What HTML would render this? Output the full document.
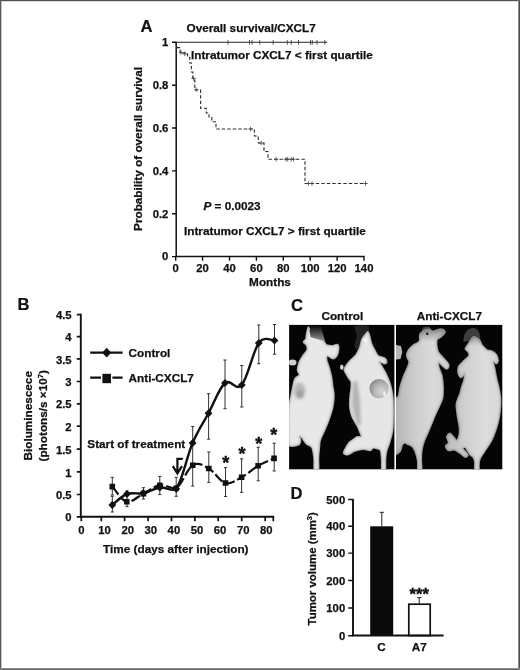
<!DOCTYPE html>
<html><head><meta charset="utf-8"><title>Figure</title>
<style>
html,body{margin:0;padding:0;background:#fff;}
body{width:520px;height:670px;overflow:hidden;}
svg{display:block;}
text{font-family:"Liberation Sans",sans-serif;font-weight:bold;fill:#111;}
.t{font-size:11.75px;stroke:#111;stroke-width:0.25px;}
.k{font-size:11.3px;}
.p{font-size:16.6px;stroke:#111;stroke-width:0.2px;}
.m{text-anchor:middle;}
.e{text-anchor:end;}
</style></head><body>
<svg width="520" height="670" viewBox="0 0 520 670">
<defs>
<filter id="bl" x="-5%" y="-5%" width="110%" height="110%"><feGaussianBlur stdDeviation="0.7"/></filter>
<filter id="bl2" x="-20%" y="-20%" width="140%" height="140%"><feGaussianBlur stdDeviation="1.8"/></filter>
<clipPath id="cpL"><rect x="289.1" y="324.9" width="105.4" height="144.4"/></clipPath>
<clipPath id="cpR"><rect x="396" y="324.9" width="106.3" height="144.4"/></clipPath>
</defs>
<rect x="0" y="0" width="520" height="670" fill="#fff"/>

<g id="panelA">
<text class="p" x="140.6" y="32.2">A</text>
<text class="t" x="186.5" y="31.5">Overall survival/CXCL7</text>
<text class="t" x="191" y="58.9">Intratumor CXCL7 &lt; first quartile</text>
<text class="t" x="203.4" y="210.2"><tspan font-style="italic">P</tspan> = 0.0023</text>
<text class="t" x="184" y="234.8">Intratumor CXCL7 &gt; first quartile</text>
<text class="t m" transform="translate(142,149) rotate(-90)">Probability of overall survival</text>
<text class="t m" x="270" y="286">Months</text>
<path d="M176.2,41.8 V256.6 H364.6" fill="none" stroke="#111" stroke-width="1.5"/>
<path d="M172,42.3 H176 M172,85.2 H176 M172,128.0 H176 M172,170.9 H176 M172,213.7 H176 M172,256.6 H176 M175.7,256.6 V260.8 M202.6,256.6 V260.8 M229.5,256.6 V260.8 M256.4,256.6 V260.8 M283.3,256.6 V260.8 M310.2,256.6 V260.8 M337.1,256.6 V260.8 M364.0,256.6 V260.8 " fill="none" stroke="#111" stroke-width="1.4"/>
<text class="t k e" x="168.4" y="46.1">1</text>
<text class="t k e" x="168.4" y="89.0">0.8</text>
<text class="t k e" x="168.4" y="131.8">0.6</text>
<text class="t k e" x="168.4" y="174.7">0.4</text>
<text class="t k e" x="168.4" y="217.5">0.2</text>
<text class="t k e" x="168.4" y="260.4">0</text>
<text class="t k m" x="175.7" y="272">0</text>
<text class="t k m" x="202.6" y="272">20</text>
<text class="t k m" x="229.5" y="272">40</text>
<text class="t k m" x="256.4" y="272">60</text>
<text class="t k m" x="283.3" y="272">80</text>
<text class="t k m" x="310.2" y="272">100</text>
<text class="t k m" x="337.1" y="272">120</text>
<text class="t k m" x="364.0" y="272">140</text>
<path d="M176,42.3 H327.2" stroke="#222" stroke-width="1.1" fill="none"/>
<path d="M228.0,40 V44.8 M249.5,40 V44.8 M252.0,40 V44.8 M259.7,40 V44.8 M273.2,40 V44.8 M287.3,40 V44.8 M291.3,40 V44.8 M298.5,40 V44.8 M310.5,40 V44.8 M312.3,40 V44.8 M317.0,40 V44.8 M324.8,40 V44.8 " stroke="#333" stroke-width="0.8" fill="none"/>
<path d="M176.3,42.5 V47.6 H180.2 V52.9 H187.6 V57.5 H189.8 V63 H191.4 V72 H192.8 V80 H194.8 V89.8 H200.6 V108.3 H206.3 V113 H209 V117 H211.8 V121.7 H216 V129 H254.4 V136 H258.3 V143 H264 V151.5 H268 V159.3 H305 V183.5 H366.6" stroke="#2a2a2a" stroke-width="1.1" fill="none" stroke-dasharray="3.4 2.1"/>
<path d="M181.0,50.4 v4.4 M178.8,52.6 h4.4 M184.8,51.7 v4.4 M182.6,53.9 h4.4 M193.6,76.2 v4.4 M191.4,78.4 h4.4 M196.2,87.6 v4.4 M194.0,89.8 h4.4 M250.6,126.8 v4.4 M248.4,129.0 h4.4 M261.2,140.8 v4.4 M259.0,143.0 h4.4 M276.2,157.1 v4.4 M274.0,159.3 h4.4 M286.0,157.1 v4.4 M283.8,159.3 h4.4 M287.7,157.1 v4.4 M285.5,159.3 h4.4 M291.2,157.1 v4.4 M289.0,159.3 h4.4 M293.5,157.1 v4.4 M291.3,159.3 h4.4 M308.5,181.3 v4.4 M306.3,183.5 h4.4 M312.0,181.3 v4.4 M309.8,183.5 h4.4 M365.5,181.3 v4.4 M363.3,183.5 h4.4 " stroke="#444" stroke-width="0.8" fill="none"/>
</g>
<g id="panelB">
<text class="p" x="17.5" y="310">B</text>
<path d="M80.8,313.8 V516.8 H274.2" fill="none" stroke="#111" stroke-width="1.9"/>
<path d="M76.8,516.8 H80.8 M76.8,494.5 H80.8 M76.8,471.9 H80.8 M76.8,449.1 H80.8 M76.8,426.2 H80.8 M76.8,403.8 H80.8 M76.8,381.5 H80.8 M76.8,358.9 H80.8 M76.8,336.6 H80.8 M76.8,314.6 H80.8 M81.3,516.8 V521.2 M101.3,516.8 V521.2 M124.6,516.8 V521.2 M148.1,516.8 V521.2 M171.5,516.8 V521.2 M194.9,516.8 V521.2 M218.2,516.8 V521.2 M241.7,516.8 V521.2 M265.2,516.8 V521.2 M273.3,516.8 V521.2 " fill="none" stroke="#111" stroke-width="1.7"/>
<text class="t k e" x="71.6" y="521.4">0</text>
<text class="t k e" x="71.6" y="499.1">0.5</text>
<text class="t k e" x="71.6" y="476.5">1</text>
<text class="t k e" x="71.6" y="453.7">1.5</text>
<text class="t k e" x="71.6" y="430.8">2</text>
<text class="t k e" x="71.6" y="408.4">2.5</text>
<text class="t k e" x="71.6" y="386.1">3</text>
<text class="t k e" x="71.6" y="363.5">3.5</text>
<text class="t k e" x="71.6" y="341.2">4</text>
<text class="t k e" x="71.6" y="319.2">4.5</text>
<text class="t k m" x="81.5" y="534.4">0</text>
<text class="t k m" x="104.6" y="534.4">10</text>
<text class="t k m" x="127.7" y="534.4">20</text>
<text class="t k m" x="150.8" y="534.4">30</text>
<text class="t k m" x="173.9" y="534.4">40</text>
<text class="t k m" x="197.0" y="534.4">50</text>
<text class="t k m" x="220.1" y="534.4">60</text>
<text class="t k m" x="243.2" y="534.4">70</text>
<text class="t k m" x="266.3" y="534.4">80</text>
<text class="t m" x="175.8" y="553.2">Time (days after injection)</text>
<text class="t m" transform="translate(32,415.8) rotate(-90)">Bioluminescece</text>
<text class="t m" transform="translate(47.3,415.8) rotate(-90)">(photons/s ×10<tspan font-size="7.5" dy="-4.5">7</tspan><tspan dy="4.5">)</tspan></text>
<path d="M90.2,352.7 H122.6" stroke="#111" stroke-width="2.3" fill="none"/>
<path d="M106.7,347.8 L111.2,352.7 L106.7,357.6 L102.2,352.7 Z" fill="#111"/>
<path d="M90.2,377.6 H101 M112.4,377.6 H122.6" stroke="#111" stroke-width="2.3" fill="none"/>
<rect x="102.4" y="373.8" width="8.6" height="9.4" fill="#111"/>
<text class="t" x="128.6" y="357.4">Control</text>
<text class="t" x="128.6" y="382.4">Anti-CXCL7</text>
<text class="t" x="87.3" y="448.2">Start of treatment</text>
<path d="M182.8,458.8 H177.4 V472.3 M172.8,466.2 L177.4,473.4 L182,466.2" stroke="#111" stroke-width="2.2" fill="none"/>
<path d="M112.3,477.3 V495.0 M110.7,477.3 h3.2 M110.7,495.0 h3.2 M112.3,496.3 V512.0 M110.7,496.3 h3.2 M110.7,512.0 h3.2 M127.0,491.0 V506.7 M125.4,491.0 h3.2 M125.4,506.7 h3.2 M143.4,487.7 V499.0 M141.8,487.7 h3.2 M141.8,499.0 h3.2 M159.8,476.4 V494.6 M158.2,476.4 h3.2 M158.2,494.6 h3.2 M176.2,477.3 V496.3 M174.6,477.3 h3.2 M174.6,496.3 h3.2 M192.7,426.5 V486.0 M191.1,426.5 h3.2 M191.1,486.0 h3.2 M208.6,393.7 V439.2 M207.0,393.7 h3.2 M207.0,439.2 h3.2 M208.8,452.0 V482.4 M207.2,452.0 h3.2 M207.2,482.4 h3.2 M225.0,360.0 V408.7 M223.4,360.0 h3.2 M223.4,408.7 h3.2 M241.8,365.5 V407.0 M240.2,365.5 h3.2 M240.2,407.0 h3.2 M258.8,325.0 V363.7 M257.2,325.0 h3.2 M257.2,363.7 h3.2 M274.5,324.5 V354.2 M272.9,324.5 h3.2 M272.9,354.2 h3.2 M225.5,467.6 V496.5 M223.9,467.6 h3.2 M223.9,496.5 h3.2 M241.6,458.8 V492.3 M240.0,458.8 h3.2 M240.0,492.3 h3.2 M258.2,447.3 V480.8 M256.6,447.3 h3.2 M256.6,480.8 h3.2 M274.2,443.2 V471.0 M272.6,443.2 h3.2 M272.6,471.0 h3.2 " stroke="#333" stroke-width="1" fill="none"/>
<path d="M112.3,486.6 C114.8,489.2 121.4,500.5 126.8,501.7 C132.2,502.9 137.6,496.5 143.4,493.6 C149.2,490.7 154.1,486.1 159.8,485.2 C165.5,484.3 173.3,489.9 176.2,488.2 C182.0,484.7 187.0,468.7 192.7,465.3 C198.4,461.9 203.1,465.4 208.8,468.5 C214.5,471.6 219.8,481.5 225.5,483.0 C231.2,484.5 235.9,480.3 241.6,477.3 C247.3,474.3 252.4,469.1 258.1,465.8 C263.8,462.5 271.3,459.7 274.1,458.4" stroke="#111" stroke-width="2.2" fill="none" stroke-dasharray="10 3"/>
<path d="M112.3,504.9 C114.9,503.0 121.6,496.0 127.0,494.0 C132.4,492.0 137.7,494.3 143.4,493.2 C149.1,492.1 154.1,488.3 159.8,487.5 C165.5,486.7 173.6,492.3 176.2,488.8 C182.5,480.2 186.9,456.2 192.6,443.0 C198.3,429.8 202.8,423.8 208.5,413.3 C214.2,402.8 219.2,388.0 225.0,383.0 C230.8,378.0 235.9,392.0 241.8,385.0 C247.7,378.0 253.1,350.8 258.8,343.0 C264.5,335.2 271.8,340.9 274.5,340.5" stroke="#111" stroke-width="2.4" fill="none"/>
<path d="M112.3,500.8 l3.9,4.1 l-3.9,4.1 l-3.9,-4.1 Z M127.0,489.9 l3.9,4.1 l-3.9,4.1 l-3.9,-4.1 Z M143.4,489.1 l3.9,4.1 l-3.9,4.1 l-3.9,-4.1 Z M159.8,483.4 l3.9,4.1 l-3.9,4.1 l-3.9,-4.1 Z M176.2,484.7 l3.9,4.1 l-3.9,4.1 l-3.9,-4.1 Z M192.6,438.9 l3.9,4.1 l-3.9,4.1 l-3.9,-4.1 Z M208.5,409.2 l3.9,4.1 l-3.9,4.1 l-3.9,-4.1 Z M225.0,378.9 l3.9,4.1 l-3.9,4.1 l-3.9,-4.1 Z M241.8,380.9 l3.9,4.1 l-3.9,4.1 l-3.9,-4.1 Z M258.8,338.9 l3.9,4.1 l-3.9,4.1 l-3.9,-4.1 Z M274.5,336.4 l3.9,4.1 l-3.9,4.1 l-3.9,-4.1 Z " fill="#111"/>
<path d="M109.5,483.8 h5.6 v5.6 h-5.6 Z M124.0,498.9 h5.6 v5.6 h-5.6 Z M140.6,490.8 h5.6 v5.6 h-5.6 Z M157.0,482.4 h5.6 v5.6 h-5.6 Z M173.4,485.4 h5.6 v5.6 h-5.6 Z M189.9,462.5 h5.6 v5.6 h-5.6 Z M206.0,465.7 h5.6 v5.6 h-5.6 Z M222.7,480.2 h5.6 v5.6 h-5.6 Z M238.8,474.5 h5.6 v5.6 h-5.6 Z M255.3,463.0 h5.6 v5.6 h-5.6 Z M271.3,455.6 h5.6 v5.6 h-5.6 Z " fill="#111"/>
<text class="t m" x="225.7" y="469.4" style="font-size:18px;stroke-width:0.45px">*</text>
<text class="t m" x="242.0" y="459.5" style="font-size:18px;stroke-width:0.45px">*</text>
<text class="t m" x="258.7" y="450.2" style="font-size:18px;stroke-width:0.45px">*</text>
<text class="t m" x="273.7" y="441.0" style="font-size:18px;stroke-width:0.45px">*</text>
</g>
<g id="panelC">
<text class="p" x="291" y="310.5">C</text>
<text class="t m" x="342.3" y="320.4">Control</text>
<text class="t m" x="449.4" y="320.4">Anti-CXCL7</text>
<rect x="289.1" y="324.9" width="213.2" height="144.4" fill="#050505"/>
<defs>
<path id="m1" d="M308.3,327.2 C307.7,327.7 306.9,332.5 306.5,334.3 C306.1,336.1 306.3,337.9 305.9,339.1 C305.4,340.3 303.4,341.2 303.5,342.1 C303.6,343.0 306.0,343.9 306.5,345.1 C307.0,346.3 307.6,348.3 307.1,349.9 C306.6,351.5 304.1,354.0 302.9,355.8 C301.7,357.6 300.1,359.7 299.3,361.8 C298.5,363.9 297.5,368.1 297.5,370.1 C297.5,372.1 299.7,373.6 299.3,374.9 C298.9,376.2 296.1,376.7 295.1,378.5 C294.1,380.3 293.4,384.2 292.8,386.9 C292.2,389.6 291.7,392.9 291.0,396.4 C290.3,399.9 288.4,404.8 288.0,410.0 C287.6,415.2 288.0,425.5 288.0,430.8 C288.0,436.1 286.5,443.0 288.0,445.1 C289.5,447.2 296.2,445.8 298.1,445.1 C300.0,444.4 300.4,441.8 300.5,440.4 C300.6,439.0 298.9,436.5 299.0,436.0 C299.1,435.5 300.4,436.0 301.5,437.2 C302.6,438.4 304.9,442.5 306.5,444.0 C308.1,445.5 310.8,445.4 311.9,447.5 C313.0,449.6 313.6,454.3 314.0,458.0 C314.4,461.7 313.7,469.9 314.4,472.0 C315.1,474.1 317.8,474.1 318.4,472.0 C319.0,469.9 318.4,461.7 318.5,458.0 C318.6,454.3 319.1,450.1 319.4,447.5 C319.7,444.9 319.4,442.9 320.2,440.4 C320.9,437.9 323.0,434.0 324.4,430.8 C325.8,427.6 327.9,422.5 329.2,418.9 C330.5,415.3 332.1,410.5 332.8,406.9 C333.5,403.3 334.0,398.0 334.0,395.0 C334.0,392.0 333.2,389.6 332.8,386.9 C332.4,384.2 332.1,380.2 331.6,377.3 C331.1,374.4 329.9,370.3 329.2,367.8 C328.5,365.3 327.1,362.4 326.8,360.6 C326.5,358.8 326.5,356.1 327.4,355.8 C328.3,355.5 331.4,358.8 332.8,358.8 C334.2,358.8 336.0,357.3 336.9,355.8 C337.8,354.3 338.6,350.4 338.7,348.7 C338.8,347.0 338.4,344.9 337.5,344.5 C336.6,344.1 334.4,345.6 332.8,345.7 C331.2,345.8 327.9,345.4 326.8,345.1 C325.7,344.8 326.1,344.6 325.6,343.9 C325.1,343.2 324.0,341.8 323.2,340.3 C322.4,338.8 321.4,335.4 320.0,334.0 C318.6,332.6 315.4,331.4 314.0,331.0 C312.6,330.6 311.4,331.6 310.5,331.0 C309.6,330.4 308.9,326.7 308.3,327.2Z"/>
<clipPath id="cm1"><use href="#m1"/></clipPath>
<path id="m2" d="M362.1,339.1 C362.9,337.2 364.1,336.1 365.0,335.0 C365.9,333.9 367.3,331.6 368.0,331.9 C368.7,332.2 369.3,334.9 369.8,336.7 C370.3,338.5 370.8,341.8 371.6,343.9 C372.4,346.0 374.2,349.2 375.2,351.0 C376.2,352.8 376.8,354.7 378.2,355.8 C379.6,356.9 383.5,357.2 384.8,358.2 C386.1,359.2 386.7,361.6 386.6,362.4 C386.5,363.2 385.4,363.8 384.2,363.6 C383.0,363.4 379.1,360.8 378.8,361.2 C378.5,361.6 380.9,364.7 382.0,366.6 C383.1,368.5 384.9,371.4 386.0,373.7 C387.1,376.0 388.6,379.4 389.5,382.1 C390.4,384.8 391.5,388.9 392.0,391.6 C392.5,394.3 392.8,395.9 393.0,400.0 C393.2,404.1 393.2,414.3 393.1,418.9 C393.0,423.5 393.0,427.2 392.5,430.8 C392.0,434.4 390.4,439.8 389.5,442.8 C388.6,445.8 387.2,448.5 386.6,451.1 C386.0,453.7 385.7,456.9 385.5,460.0 C385.3,463.1 385.8,470.2 385.3,472.0 C384.8,473.8 382.4,473.8 381.9,472.0 C381.4,470.2 381.9,463.2 381.7,460.0 C381.5,456.8 381.2,452.2 380.6,450.5 C380.0,448.8 378.8,449.1 377.6,448.7 C376.4,448.3 373.9,447.8 372.8,448.1 C371.7,448.4 371.8,450.3 370.4,450.5 C369.0,450.7 365.6,449.2 363.3,449.3 C361.0,449.4 357.2,450.3 354.9,451.1 C352.6,451.9 349.4,454.4 347.7,454.7 C346.0,455.0 343.9,453.8 343.6,452.9 C343.3,452.0 344.6,450.2 345.4,448.7 C346.2,447.2 347.7,444.2 348.9,442.8 C350.1,441.4 352.4,440.1 353.7,439.2 C355.0,438.3 356.1,437.2 357.3,436.8 C358.5,436.4 361.1,437.3 361.5,436.8 C361.9,436.3 360.9,434.8 360.3,433.2 C359.7,431.6 358.5,428.5 357.3,426.0 C356.1,423.5 353.1,419.4 352.0,416.5 C350.9,413.6 350.1,410.1 349.8,406.9 C349.5,403.7 350.0,397.6 350.2,395.0 C350.4,392.4 350.9,391.2 351.0,389.3 C351.1,387.4 351.5,383.7 351.2,382.1 C350.9,380.5 349.8,379.9 348.9,378.5 C348.0,377.1 346.1,373.8 345.4,372.5 C344.7,371.2 344.2,371.0 344.2,370.1 C344.2,369.2 344.5,368.0 345.4,366.6 C346.3,365.2 348.5,362.4 350.1,360.6 C351.7,358.8 354.7,356.6 356.1,354.6 C357.5,352.6 358.8,349.8 359.7,347.5 C360.6,345.2 361.3,341.0 362.1,339.1Z"/>
<clipPath id="cm2"><use href="#m2"/></clipPath>
<path id="m3" d="M419.9,334.3 C420.6,332.7 422.7,331.4 424.0,330.7 C425.3,330.0 427.4,329.4 428.8,329.6 C430.2,329.8 432.7,331.7 433.6,331.9 C434.5,332.1 433.7,331.1 434.8,330.7 C435.9,330.3 439.3,328.9 440.8,329.0 C442.3,329.1 444.5,330.5 444.9,331.3 C445.3,332.1 444.5,333.3 443.7,334.3 C442.9,335.3 440.6,337.2 439.6,337.9 C438.6,338.6 437.6,338.2 437.2,339.1 C436.8,340.0 436.5,342.1 436.6,343.9 C436.7,345.7 437.3,349.4 437.8,351.0 C438.3,352.6 438.6,352.6 440.2,354.6 C441.8,356.6 447.5,362.0 448.5,364.2 C449.5,366.4 447.9,369.0 446.7,369.0 C445.5,369.0 442.0,365.3 440.8,364.2 C439.6,363.1 438.7,361.3 438.4,361.8 C438.1,362.3 438.5,365.7 439.0,367.8 C439.5,369.9 441.4,373.2 442.0,376.1 C442.6,379.0 443.0,383.6 443.1,386.9 C443.2,390.2 443.2,395.0 442.6,398.0 C442.0,401.0 440.4,403.8 439.0,406.9 C437.6,410.0 435.1,415.3 433.6,418.9 C432.1,422.5 430.2,427.4 428.8,430.8 C427.4,434.2 425.1,438.6 424.0,441.6 C422.9,444.6 422.1,448.3 421.7,451.1 C421.3,453.9 421.3,456.9 421.3,460.0 C421.3,463.1 422.1,470.2 421.6,472.0 C421.1,473.8 418.8,473.8 418.2,472.0 C417.6,470.2 418.1,463.1 417.6,460.0 C417.1,456.9 415.9,453.2 415.1,451.1 C414.3,449.0 413.3,447.4 412.1,446.3 C410.9,445.2 408.4,444.5 407.3,444.0 C406.2,443.5 405.7,442.6 404.9,442.8 C404.1,443.0 402.7,443.9 402.0,445.1 C401.3,446.3 401.4,450.0 400.2,451.1 C399.0,452.2 394.9,457.0 394.0,452.3 C393.1,447.6 394.0,427.8 394.0,420.0 C394.0,412.2 393.3,403.5 394.0,400.0 C394.7,396.5 397.5,398.4 398.4,396.4 C399.3,394.4 399.4,389.9 400.2,386.9 C401.0,383.9 402.6,379.0 403.7,376.1 C404.8,373.2 406.5,369.9 407.3,367.8 C408.1,365.7 409.2,363.6 409.1,361.8 C409.0,360.0 406.8,357.6 406.7,355.8 C406.6,354.0 407.5,351.5 408.5,349.9 C409.5,348.3 411.7,346.4 413.3,345.1 C414.9,343.8 418.3,343.1 419.3,341.5 C420.3,339.9 419.2,335.9 419.9,334.3Z"/>
<clipPath id="cm3"><use href="#m3"/></clipPath>
<path id="m4" d="M470.7,340.3 C469.9,341.4 469.1,342.6 468.3,343.9 C467.5,345.2 465.3,347.5 465.3,348.7 C465.3,349.9 467.8,351.1 468.3,352.2 C468.8,353.3 469.7,354.4 468.9,355.8 C468.1,357.2 464.4,360.2 462.9,361.8 C461.4,363.4 459.4,365.0 458.7,366.6 C458.0,368.2 457.8,370.9 458.1,372.5 C458.4,374.1 459.8,376.8 460.5,377.3 C461.2,377.8 462.3,376.8 462.9,376.1 C463.5,375.4 464.5,372.0 464.7,372.5 C464.9,373.0 464.6,377.5 464.1,379.7 C463.7,381.9 462.3,384.8 461.7,386.9 C461.1,389.0 460.4,392.3 459.9,394.0 C459.4,395.7 458.7,396.4 458.2,398.0 C457.7,399.6 456.4,401.8 456.3,404.6 C456.2,407.4 457.1,413.3 457.5,416.5 C457.9,419.7 459.0,423.3 459.3,426.0 C459.6,428.7 459.7,432.2 459.3,434.4 C458.9,436.6 457.8,440.0 456.9,440.4 C456.0,440.8 454.5,437.9 453.4,436.8 C452.3,435.7 450.8,433.2 449.8,433.2 C448.8,433.2 447.0,435.4 446.8,436.8 C446.6,438.2 448.8,441.4 448.6,442.8 C448.4,444.2 445.6,445.1 445.6,446.3 C445.6,447.5 447.2,450.0 448.6,450.5 C450.0,451.0 452.8,449.4 454.6,449.9 C456.4,450.3 458.9,452.4 460.5,453.5 C462.1,454.6 464.2,456.9 465.3,457.1 C466.4,457.3 468.1,456.0 467.7,454.7 C467.3,453.4 463.3,449.8 462.9,448.7 C462.5,447.6 464.2,446.6 465.3,447.5 C466.4,448.4 468.9,453.3 470.1,454.7 C471.3,456.1 472.4,456.0 473.1,457.1 C473.8,458.2 474.5,459.8 474.8,462.0 C475.1,464.2 474.4,470.5 475.0,472.0 C475.6,473.5 478.3,473.2 478.9,472.0 C479.5,470.8 478.8,466.1 479.0,464.0 C479.2,461.9 479.2,460.4 480.2,458.3 C481.2,456.2 483.9,452.6 485.6,449.9 C487.3,447.2 490.0,443.6 491.6,440.4 C493.2,437.2 495.1,432.0 496.3,428.4 C497.5,424.8 498.7,420.1 499.3,416.5 C499.9,412.9 500.4,407.6 500.5,404.6 C500.6,401.6 500.6,399.1 500.3,396.4 C500.0,393.7 499.3,389.8 498.7,386.9 C498.1,384.0 496.9,380.2 496.3,377.3 C495.7,374.4 495.1,370.3 494.6,367.8 C494.1,365.3 492.5,361.2 492.8,360.6 C493.1,360.0 495.5,363.6 496.3,363.6 C497.1,363.6 498.1,362.0 498.1,360.6 C498.1,359.2 497.3,356.0 496.3,354.6 C495.3,353.2 493.0,351.7 491.6,351.0 C490.2,350.3 488.2,350.8 486.8,349.9 C485.4,349.0 483.1,346.5 482.0,345.1 C480.9,343.7 480.8,341.6 479.6,340.3 C478.4,339.0 475.0,336.7 473.7,336.7 C472.4,336.7 471.5,339.2 470.7,340.3Z"/>
<clipPath id="cm4"><use href="#m4"/></clipPath>
<linearGradient id="hd" x1="0" y1="0" x2="0" y2="1"><stop offset="0" stop-color="#0a0a0a"/><stop offset="1" stop-color="#9a9a9a"/></linearGradient>
<radialGradient id="tum" cx="0.64" cy="0.64" r="0.8"><stop offset="0" stop-color="#d6d6d6"/><stop offset="0.45" stop-color="#b8b8b8"/><stop offset="0.8" stop-color="#909090"/><stop offset="1" stop-color="#787878"/></radialGradient>
<linearGradient id="sh" x1="0" y1="0" x2="1" y2="0"><stop offset="0" stop-color="#000" stop-opacity="0.16"/><stop offset="0.35" stop-color="#000" stop-opacity="0.06"/><stop offset="0.7" stop-color="#000" stop-opacity="0"/><stop offset="1" stop-color="#fff" stop-opacity="0.08"/></linearGradient>
<linearGradient id="tp" x1="0" y1="0" x2="0" y2="1"><stop offset="0" stop-color="#000" stop-opacity="0.4"/><stop offset="1" stop-color="#000" stop-opacity="0"/></linearGradient>
</defs>
<g clip-path="url(#cpL)"><g filter="url(#bl)">
<ellipse cx="292.5" cy="362.5" rx="4" ry="3" fill="#cfcfcf"/>
<ellipse cx="341.8" cy="367.2" rx="1.8" ry="2.6" fill="#cfcfcf"/>
<use href="#m1" fill="#a6a6a6" stroke="#a6a6a6" stroke-width="1.6" stroke-linejoin="round"/><g clip-path="url(#cm1)"><use href="#m1" fill="#e8e8e8" filter="url(#bl2)"/><ellipse cx="299.5" cy="391" rx="6" ry="8.5" fill="#bcbcbc" filter="url(#bl2)"/><ellipse cx="300" cy="393.5" rx="3" ry="4" fill="#9e9e9e" filter="url(#bl2)"/></g>
<path d="M309.5,331 L311.5,326 L321,326 L325,341.5 L317,339 L310.5,337 Z" fill="url(#hd)"/>
<path d="M354,326 L362,325 L369,326 L369,337 L363,342 L357,350 L354,346 L357,336 Z" fill="#222"/>
<path d="M360,343 L363,336 L367,333 L369,338 L366,346 Z" fill="#555"/>
<use href="#m2" fill="#a6a6a6" stroke="#a6a6a6" stroke-width="1.6" stroke-linejoin="round"/><g clip-path="url(#cm2)"><use href="#m2" fill="#e6e6e6" filter="url(#bl2)"/><path d="M353,383 L357,380 L360,400 L361,425 L357,425 L352,405 Z" fill="#b4b4b4" filter="url(#bl2)"/><circle cx="379" cy="388.6" r="9.6" fill="url(#tum)" filter="url(#bl)"/><ellipse cx="384.5" cy="394" rx="1.3" ry="3" fill="#eee"/><ellipse cx="365.5" cy="340" rx="2.2" ry="2" fill="#f4f4f4"/></g>
</g></g>
<g clip-path="url(#cpR)"><g filter="url(#bl)">
<path d="M396,345 L401,346 L402.3,352 L400.5,359 L396,359.5 Z" fill="#b5b5b5"/>
<path d="M421,333 L423,327.5 L428,326.5 L432,329 L428,331 Z" fill="#4a4a4a"/>
<use href="#m3" fill="#9a9a9a" stroke="#9a9a9a" stroke-width="1.6" stroke-linejoin="round"/><g clip-path="url(#cm3)"><use href="#m3" fill="#dadada" filter="url(#bl2)"/><rect x="396" y="325" width="54" height="145" fill="url(#sh)"/><rect x="396" y="326" width="54" height="16" fill="url(#tp)"/><circle cx="427.2" cy="333.8" r="1.2" fill="#111"/></g>
<path d="M463.5,342 C463,334 467,328.5 472.5,328 C477,327.6 480,331 480.5,340 L474,336.5 L470,340.5 Z" fill="#3d3d3d"/>
<use href="#m4" fill="#9a9a9a" stroke="#9a9a9a" stroke-width="1.6" stroke-linejoin="round"/><g clip-path="url(#cm4)"><use href="#m4" fill="#dddddd" filter="url(#bl2)"/><rect x="445" y="325" width="58" height="145" fill="url(#sh)"/><rect x="445" y="332" width="58" height="14" fill="url(#tp)"/></g>
</g></g>
<rect x="394.4" y="324" width="1.6" height="146" fill="#fff"/>
</g>
<g id="panelD">
<text class="p" x="290.5" y="499.3">D</text>
<rect x="370.2" y="526.3" width="23" height="109.4" fill="#0a0a0a"/>
<rect x="408.8" y="604.2" width="21.4" height="31.4" fill="#fff" stroke="#111" stroke-width="1.7"/>
<path d="M353,499 V635.5 H443.6" fill="none" stroke="#111" stroke-width="1.9"/>
<path d="M348.2,635.7 H353 M348.2,608.0 H353 M348.2,580.5 H353 M348.2,553.1 H353 M348.2,526.2 H353 M348.2,499.5 H353 " fill="none" stroke="#111" stroke-width="1.4"/>
<text class="t k e" x="345.2" y="639.8">0</text>
<text class="t k e" x="345.2" y="612.1">100</text>
<text class="t k e" x="345.2" y="584.6">200</text>
<text class="t k e" x="345.2" y="557.2">300</text>
<text class="t k e" x="345.2" y="530.3">400</text>
<text class="t k e" x="345.2" y="503.6">500</text>
<path d="M381.8,526.3 V512.3 M379.7,512.3 H383.9 M419.2,604 V597.6 M417.2,597.6 H421.3" fill="none" stroke="#222" stroke-width="1"/>
<text class="t m" x="419.2" y="600.1" style="font-size:16.5px;stroke-width:0.4px">***</text>
<text class="t m" x="381.5" y="651.4">C</text>
<text class="t m" x="419.2" y="651.4">A7</text>
<text class="t m" style="font-size:11.45px" transform="translate(316.3,568.8) rotate(-90)">Tumor volume (mm<tspan font-size="7.5" dy="-4.5">3</tspan><tspan dy="4.5">)</tspan></text>
</g>
<rect x="0" y="0" width="520" height="1" fill="#4f4f4f"/><rect x="0" y="1" width="520" height="1" fill="#dcdcdc"/>
<rect x="0" y="0" width="1" height="670" fill="#555"/><rect x="1" y="1" width="1" height="669" fill="#c8c8c8"/>
<rect x="518" y="0" width="1" height="670" fill="#8a8a8a"/><rect x="519" y="0" width="1" height="670" fill="#4d4d4d"/>
<rect x="0" y="668" width="520" height="1" fill="#8c8c8c"/><rect x="0" y="669" width="520" height="1" fill="#686868"/>
</svg></body></html>
